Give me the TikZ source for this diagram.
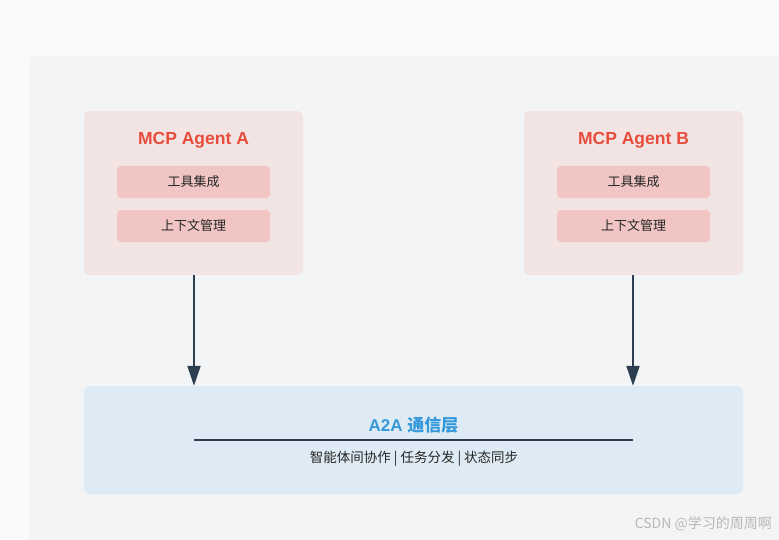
\documentclass[tikz,border=0pt]{standalone}
\usepackage{fontspec}
\setmainfont{Liberation Sans}
\newfontfamily\cjk{Noto Sans CJK SC}
\usetikzlibrary{arrows.meta,positioning}
\definecolor{pagebg}{HTML}{F8F9FA}
\definecolor{panelbg}{HTML}{F3F4F6}
\definecolor{agentbg}{HTML}{F3E4E4}
\definecolor{toolbg}{HTML}{F0C5C3}
\definecolor{layerbg}{HTML}{DEEBF4}
\definecolor{agentred}{HTML}{E74C3C}
\definecolor{layerblue}{HTML}{3498DB}
\definecolor{darkline}{HTML}{2C3E50}

\begin{document}
\begin{tikzpicture}[x=1pt,y=-1pt,
    agent/.style={fill=agentbg,rounded corners=5pt,minimum width=219pt,minimum height=164pt,inner sep=0pt},
    tool/.style={fill=toolbg,rounded corners=4pt,minimum width=153pt,minimum height=32pt,inner sep=0pt,font=\cjk\fontsize{13}{15}\selectfont,text=black!85},
    title/.style={font=\bfseries\fontsize{17.5}{20}\selectfont,text=agentred,inner sep=0pt},
    flow/.style={-{Triangle[length=20pt,width=13pt]},line width=2pt,darkline}]
    \useasboundingbox (0,0) rectangle (779,539);
    \clip (0,0) rectangle (779,539);
    \fill [pagebg] (0,0) rectangle (779,539);
    \fill [panelbg,rounded corners=8pt] (29,56) rectangle (800,560);
    % agent A
    \node[agent] (agentA) at (193.5,193) {};
    \node[title] (titleA) at (193.5,140) {MCP Agent A};
    \node[tool] (toolA) at (193.5,182) {\raisebox{-1pt}{工具集成}};
    \node[tool] (ctxA) at (193.5,226) {\raisebox{-1pt}{上下文管理}};
    % agent B
    \node[agent] (agentB) at (633.5,193) {};
    \node[title] (titleB) at (633.5,140) {MCP Agent B};
    \node[tool] (toolB) at (633.5,182) {\raisebox{-1pt}{工具集成}};
    \node[tool] (ctxB) at (633.5,226) {\raisebox{-1pt}{上下文管理}};
    % A2A layer
    \node[fill=layerbg,rounded corners=5pt,minimum width=659pt,minimum height=108pt,inner sep=0pt] (layer) at (413.5,440) {};
    \node[font=\bfseries\fontsize{17}{20}\selectfont,text=layerblue,inner sep=0pt] (layerTitle) at (413.5,425) {A2A {\cjk\bfseries 通信层}};
    \draw[darkline,line width=2pt] (194,440)--(633,440);
    \node[font=\cjk\fontsize{13.5}{16}\selectfont,text=black!85,inner sep=0pt] (layerText) at (414,459) {智能体间协作 | 任务分发 | 状态同步};
    \draw[flow] (agentA.south -| 194,0)--(layer.north -| 194,0);
    \draw[flow] (agentB.south -| 633,0)--(layer.north -| 633,0);
    \node[font=\cjk\fontsize{14}{16}\selectfont,text=black!28,anchor=east,inner sep=0pt] (mark) at (772,524) {CSDN @学习的周周啊};
\end{tikzpicture}
\end{document}
